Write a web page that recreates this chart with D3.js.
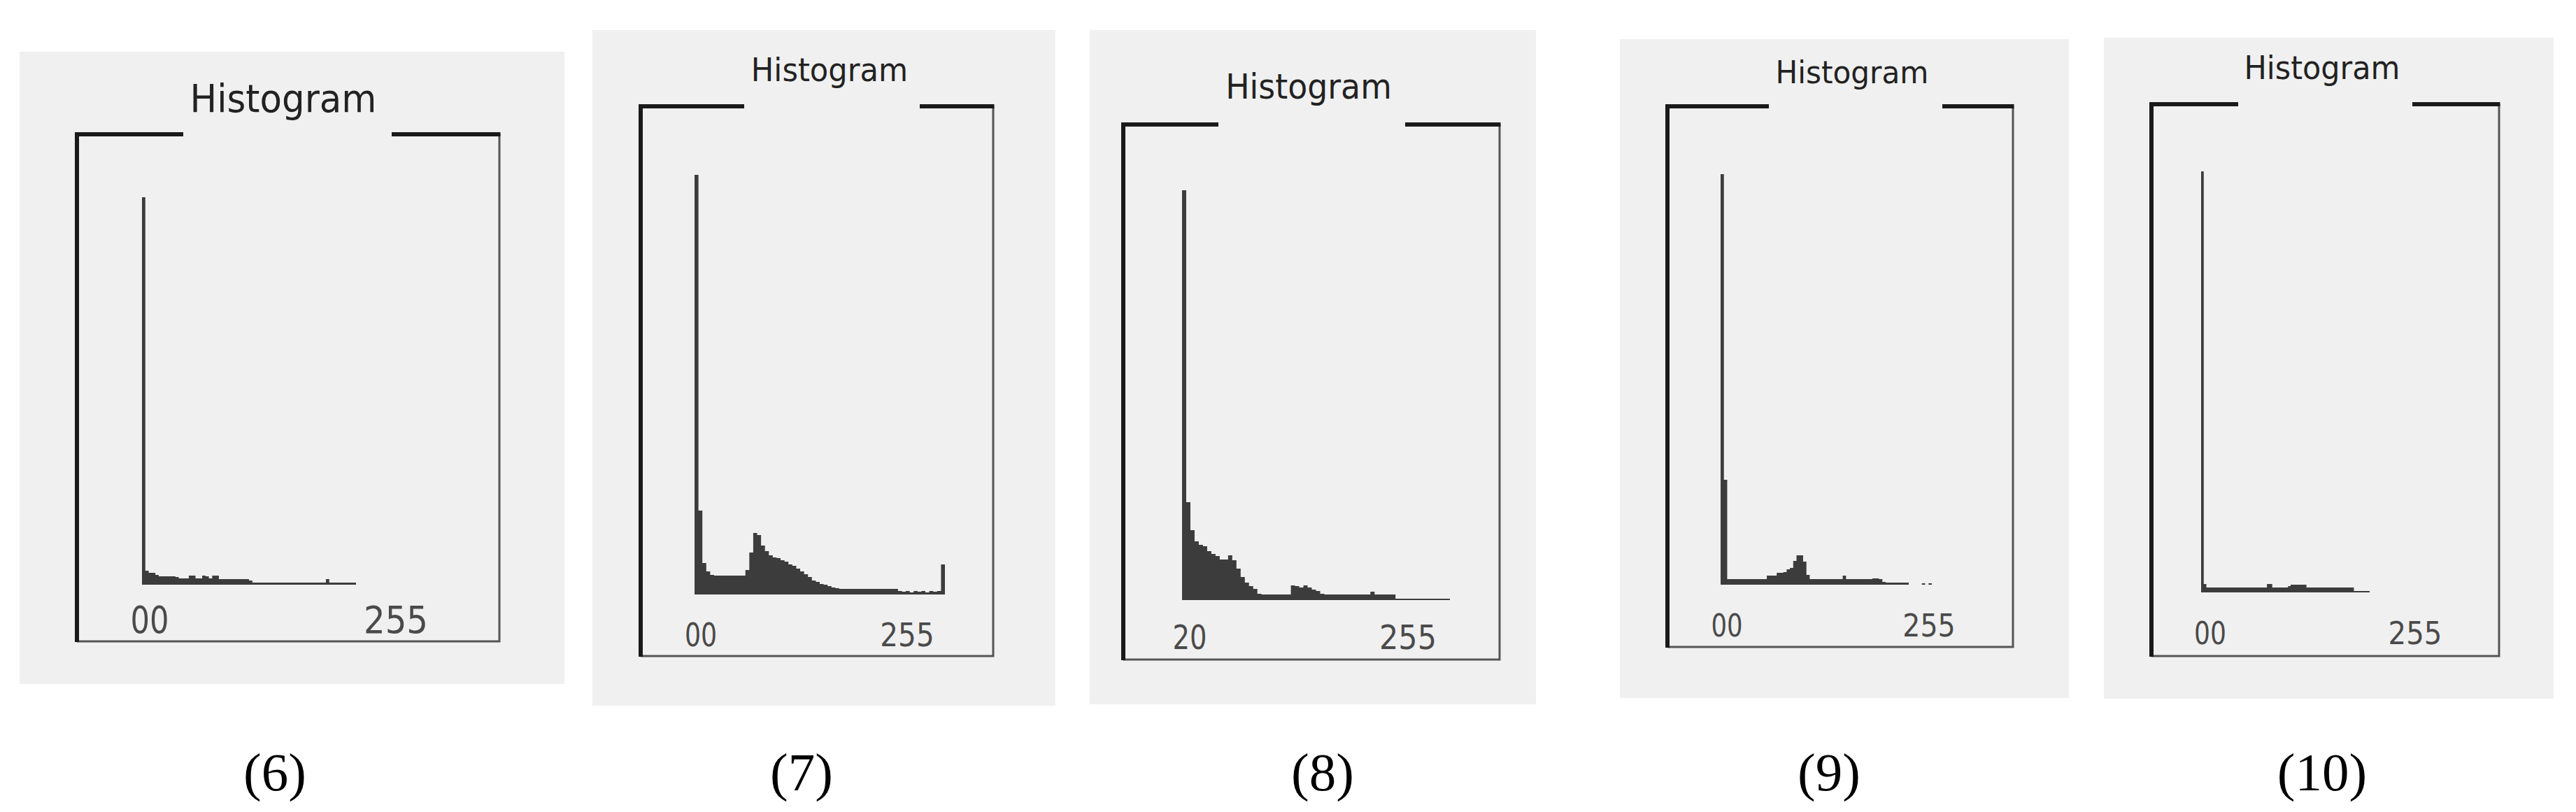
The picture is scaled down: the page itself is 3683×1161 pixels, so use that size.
<!DOCTYPE html>
<html>
<head>
<meta charset="utf-8">
<script src="https://cdn.jsdelivr.net/npm/d3@7"></script>
<style>
  body { margin: 0; background: #fff; }
  svg { display: block; }
</style>
</head>
<body>
<div id="vis"></div>
<script>
const FRAME_WIDTH = 3683;
const FRAME_HEIGHT = 1161;

// histogram counts, 64 bins of 4 grey levels each (relative units)
const HIST_6 = [554, 20, 17, 17, 14, 12, 12, 12, 12, 12, 11, 9, 9, 9, 13, 13,
  9, 9, 13, 12, 9, 13, 13, 8, 8, 8, 8, 8, 8, 8, 8, 8,
  6, 3, 3, 3, 3, 3, 3, 3, 3, 3, 3, 3, 3, 3, 3, 3,
  3, 3, 3, 3, 3, 3, 3, 8, 3, 3, 3, 3, 3, 3, 3, 3];
const HIST_7 = [600, 120, 45, 33, 28, 27, 27, 27, 27, 27, 27, 27, 27, 35, 60, 88,
  85, 70, 62, 56, 53, 52, 49, 47, 43, 41, 37, 33, 29, 25, 20, 18,
  15, 14, 12, 10, 9, 8, 8, 8, 8, 8, 8, 8, 8, 8, 8, 8,
  8, 8, 8, 8, 5, 4, 5, 3, 5, 4, 5, 3, 5, 4, 5, 43];
const HIST_8 = [586, 140, 100, 84, 79, 77, 70, 66, 63, 58, 58, 64, 57, 45, 33, 25,
  20, 16, 9, 8, 8, 8, 8, 8, 8, 8, 21, 20, 18, 21, 18, 15,
  13, 9, 8, 8, 8, 8, 8, 8, 8, 8, 8, 8, 8, 12, 8, 8,
  8, 8, 8, 2, 2, 2, 2, 2, 2, 2, 2, 2, 2, 2, 2, 2];
const HIST_9 = [587, 150, 8, 8, 8, 8, 8, 8, 8, 8, 8, 8, 8, 8, 13, 13,
  13, 17, 17, 18, 22, 24, 34, 42, 42, 33, 14, 8, 8, 8, 8, 8,
  8, 8, 8, 8, 8, 13, 8, 8, 8, 8, 8, 8, 8, 8, 9, 9,
  8, 4, 3, 3, 3, 3, 3, 3, 3, 0, 0, 0, 0, 2, 0, 2];
const HIST_10 = [602, 12, 7, 7, 7, 7, 7, 7, 7, 7, 7, 7, 7, 7, 7, 7,
  7, 7, 7, 7, 7, 7, 7, 7, 7, 12, 12, 7, 7, 7, 7, 7,
  7, 9, 11, 11, 11, 11, 11, 11, 7, 7, 7, 7, 7, 7, 7, 7,
  7, 7, 7, 7, 7, 7, 7, 7, 7, 7, 2, 2, 2, 2, 2, 2];

const SERIES = [HIST_6, HIST_7, HIST_8, HIST_9, HIST_10];
const CAPTIONS = ["(6)", "(7)", "(8)", "(9)", "(10)"];
const LOW_LABELS = ["00", "00", "20", "00", "00"];
const HIGH_LABELS = ["255", "255", "255", "255", "255"];
const TITLE = "Histogram";

// where each screenshot sits on the page; k = scale of that screenshot
const LAYOUT = [
  {bg: [28, 74, 807, 978], box: [110, 192, 714, 917], gap: [262, 560], tx: 405, ty: 160, k: 1.0,
   hx: [203, 509], base: 836, top: 282, lx: [214, 566], ly: 905, cx: 393},
  {bg: [847, 43, 1509, 1009], box: [916, 152, 1420, 938], gap: [1064, 1315], tx: 1186, ty: 116, k: 0.84,
   hx: [993, 1351], base: 850, top: 250, lx: [1002, 1297], ly: 924, cx: 1146},
  {bg: [1558, 43, 2196, 1007], box: [1606, 178, 2144, 943], gap: [1742, 2009], tx: 1871, ty: 141, k: 0.89,
   hx: [1690, 2073], base: 858, top: 272, lx: [1701, 2013], ly: 928, cx: 1891},
  {bg: [2316, 56, 2958, 998], box: [2384, 152, 2878, 925], gap: [2529, 2777], tx: 2648, ty: 119, k: 0.82,
   hx: [2460, 2762], base: 836, top: 249, lx: [2469, 2758], ly: 910, cx: 2615},
  {bg: [3008, 54, 3651, 999], box: [3076, 149, 3573, 938], gap: [3200, 3449], tx: 3320, ty: 113, k: 0.835,
   hx: [3147, 3388], base: 847, top: 245, lx: [3160, 3453], ly: 921, cx: 3320}
];

const SVG = d3.select("#vis")
  .append("svg")
  .attr("width", FRAME_WIDTH)
  .attr("height", FRAME_HEIGHT);

SVG.append("rect")
  .attr("width", FRAME_WIDTH)
  .attr("height", FRAME_HEIGHT)
  .attr("fill", "#ffffff");

SERIES.forEach((values, p) => {
  const L = LAYOUT[p];
  const g = SVG.append("g").attr("class", "panel");

  // grey window background
  g.append("rect")
    .attr("x", L.bg[0]).attr("y", L.bg[1])
    .attr("width", L.bg[2] - L.bg[0])
    .attr("height", L.bg[3] - L.bg[1])
    .attr("fill", "#f0f0f0");

  // group box: thin right and bottom edges, thick left edge and top segments
  const [bx0, by0, bx1, by1] = L.box;
  g.append("path")
    .attr("d", `M${bx1},${by0} L${bx1},${by1} L${bx0},${by1}`)
    .attr("fill", "none")
    .attr("stroke", "#555")
    .attr("stroke-width", 3);
  g.append("path")
    .attr("d", `M${bx0},${by1 + 1} L${bx0},${by0} L${L.gap[0]},${by0} M${L.gap[1]},${by0} L${bx1 + 1.5},${by0}`)
    .attr("fill", "none")
    .attr("stroke", "#1a1a1a")
    .attr("stroke-width", 6);

  g.append("text")
    .attr("x", L.tx)
    .attr("y", L.ty)
    .attr("text-anchor", "middle")
    .attr("font-family", "DejaVu Sans, sans-serif")
    .attr("font-size", (55 * L.k) + "px")
    .attr("textLength", 267 * L.k)
    .attr("lengthAdjust", "spacingAndGlyphs")
    .attr("fill", "#222")
    .text(TITLE);

  // scales for the bars
  const X_SCALE = d3.scaleLinear()
    .domain([0, values.length])
    .range(L.hx);
  const Y_SCALE = d3.scaleLinear()
    .domain([0, d3.max(values)])
    .range([L.base, L.top]);

  const pts = values.map((v, i) => [i, v]).concat([[values.length, values[values.length - 1]]]);
  const area = d3.area()
    .x(d => X_SCALE(d[0]))
    .y0(Y_SCALE(0))
    .y1(d => Y_SCALE(d[1]))
    .curve(d3.curveStepAfter);

  g.append("path")
    .datum(pts)
    .attr("d", area)
    .attr("fill", "#3c3c3c");

  // end labels of the grey scale, narrow like the screenshot font
  [LOW_LABELS[p], HIGH_LABELS[p]].forEach((t, i) => {
    g.append("text")
      .attr("x", L.lx[i])
      .attr("y", L.ly)
      .attr("text-anchor", "middle")
      .attr("font-family", "DejaVu Sans, sans-serif")
      .attr("font-size", (54 * L.k) + "px")
      .attr("textLength", (t.length === 2 ? 55 : 92) * L.k)
      .attr("lengthAdjust", "spacingAndGlyphs")
      .attr("fill", "#4a4a4a")
      .text(t);
  });

  SVG.append("text")
    .attr("x", L.cx)
    .attr("y", 1130)
    .attr("text-anchor", "middle")
    .attr("font-family", "Liberation Serif, Times New Roman, serif")
    .attr("font-size", "77px")
    .attr("fill", "#000")
    .text(CAPTIONS[p]);
});
</script>
</body>
</html>
